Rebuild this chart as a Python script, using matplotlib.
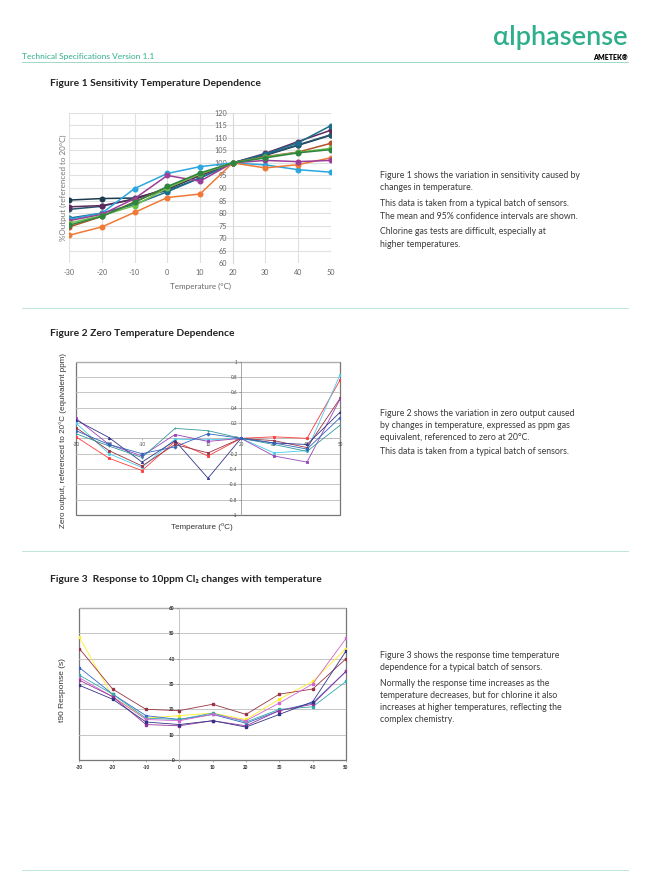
import matplotlib
matplotlib.use('Agg')
import matplotlib.pyplot as plt

plt.rcParams['font.family'] = ['Lato', 'DejaVu Sans']
plt.rcParams['axes.unicode_minus'] = False

temps = [-30, -20, -10, 0, 10, 20, 30, 40, 50]

# Figure 1 - sensitivity (% of output at 20C)
sens = {
    '#1d3b4f': [85.2, 85.8, 86.0, 89.5, 95.0, 100, 103.0, 107.0, 111.0],
    '#27566e': [81.5, 82.7, 85.8, 89.0, 94.0, 100, 103.2, 107.2, 111.2],
    '#5e2a5e': [82.5, 83.0, 85.5, 90.0, 95.0, 100, 103.8, 108.5, 113.0],
    '#1b6e8c': [78.0, 80.0, 83.5, 88.5, 94.0, 100, 103.5, 108.0, 114.8],
    '#2aa7df': [77.5, 80.0, 89.8, 95.8, 98.5, 100, 99.2, 97.3, 96.3],
    '#f07a35': [71.2, 74.5, 80.3, 86.2, 87.6, 100, 98.0, 99.3, 102.0],
    '#9c3d97': [77.0, 79.5, 85.8, 95.0, 92.7, 100, 101.0, 100.5, 101.0],
    '#b0522a': [74.5, 78.7, 84.5, 90.2, 95.5, 100, 102.5, 104.3, 107.8],
    '#6cbf4a': [76.0, 79.0, 83.0, 90.0, 95.6, 100, 102.3, 104.2, 105.8],
    '#2e8540': [75.2, 78.7, 84.3, 90.6, 96.0, 100, 102.0, 104.0, 105.3],
}

# Figure 2 - zero output (ppm equivalent)
zero = {
    '#ff3b3b': [0.02, -0.26, -0.42, -0.04, -0.23, 0, 0.02, 0.0, 0.76],
    '#44ccee': [0.20, -0.20, -0.38, -0.01, -0.02, 0, -0.19, -0.16, 0.83],
    '#993344': [0.14, -0.16, -0.36, -0.08, -0.19, 0, -0.03, -0.12, 0.52],
    '#9944bb': [0.26, -0.08, -0.23, 0.05, -0.04, 0, -0.23, -0.31, 0.51],
    '#333388': [0.24, 0.01, -0.31, -0.03, -0.52, 0, -0.06, -0.08, 0.34],
    '#339999': [0.06, -0.10, -0.25, 0.13, 0.10, 0, -0.08, -0.17, 0.17],
    '#3366bb': [0.10, -0.08, -0.20, -0.11, 0.06, 0, -0.06, -0.14, 0.27],
}
zero_markers = ['s', 'o', 's', 's', '^', '+', 'D']

# Figure 3 - t90 response (s)
t90 = {
    '#ffee22': [48.5, 25, 16.5, 17.5, 18.5, 16, 24, 31, 44],
    '#993344': [44, 28, 20, 19.5, 22, 18, 26, 28, 40],
    '#3366cc': [36.5, 26, 17.5, 16, 18, 14.5, 19.5, 22.5, 35],
    '#33aaaa': [33.5, 26, 16.5, 16, 18.5, 15, 20, 21, 31],
    '#cc66cc': [32.5, 25, 16, 15.5, 18, 15.5, 22.5, 30, 48],
    '#993399': [31.5, 25, 14, 13.5, 15.5, 13.5, 19.5, 22, 35],
    '#333388': [29.5, 24, 15, 14, 15.5, 13, 18, 23, 43],
}

W, H = 650, 881
teal = '#2fae8c'
txt = '#3a3a3a'

fig = plt.figure(figsize=(6.5, 8.81), dpi=100)

def box(l, t, r, b):
    return [l / W, 1 - b / H, (r - l) / W, (b - t) / H]

def ftext(x, y, s, **kw):
    fig.text(x / W, 1 - y / H, s, **kw)

def hline(y, c='#bfe6da'):
    fig.add_artist(plt.Line2D([22 / W, 628 / W], [1 - y / H, 1 - y / H], color=c, lw=0.7))

# header
ftext(628, 38, 'αlphasense', ha='right', va='center', fontsize=19.5, fontweight='semibold', color=teal)
ftext(628, 57, 'AMETEK®', ha='right', va='center', fontsize=5, fontweight='heavy', color='black')
ftext(22, 57, 'Technical Specifications Version 1.1', ha='left', va='center', fontsize=6, color=teal)
hline(62, '#9fd8c6')
hline(308)
hline(551)
hline(870)

# section titles
ftext(50, 83, 'Figure 1 Sensitivity Temperature Dependence', fontsize=7.4, fontweight='bold', color='#222222', va='center')
ftext(50, 334, 'Figure 2 Zero Temperature Dependence', fontsize=7.4, fontweight='bold', color='#222222', va='center')
ftext(50, 579, 'Figure 3  Response to 10ppm Cl₂ changes with temperature', fontsize=7.4, fontweight='bold', color='#222222', va='center')

# body text
para1 = [(175, 'Figure 1 shows the variation in sensitivity caused by'),
         (188, 'changes in temperature.'),
         (203, 'This data is taken from a typical batch of sensors.'),
         (216.5, 'The mean and 95% confidence intervals are shown.'),
         (231.5, 'Chlorine gas tests are difficult, especially at'),
         (244.5, 'higher temperatures.')]
para2 = [(414, 'Figure 2 shows the variation in zero output caused'),
         (425.5, 'by changes in temperature, expressed as ppm gas'),
         (437, 'equivalent, referenced to zero at 20°C.'),
         (452, 'This data is taken from a typical batch of sensors.')]
para3 = [(655, 'Figure 3 shows the response time temperature'),
         (667, 'dependence for a typical batch of sensors.'),
         (683, 'Normally the response time increases as the'),
         (695.5, 'temperature decreases, but for chlorine it also'),
         (708, 'increases at higher temperatures, reflecting the'),
         (720, 'complex chemistry.')]
for y, s in para1 + para2 + para3:
    ftext(380, y, s, fontsize=6.3, color=txt, va='center')

# ---- Figure 1
ax1 = fig.add_axes(box(69.3, 112.7, 330.7, 263.3))
for c, v in sens.items():
    ax1.plot(temps, v, color=c, lw=1.1, marker='o', ms=3.3, zorder=3)
ax1.set_xlim(-30, 50)
ax1.set_ylim(60, 120)
ax1.set_xticks(temps)
ax1.set_yticks(range(60, 121, 5))
ax1.grid(color='#e0e0e0', lw=0.8)
ax1.set_axisbelow(True)
for sp in ['top', 'right', 'bottom']:
    ax1.spines[sp].set_visible(False)
ax1.spines['left'].set_position(('data', 20))
ax1.spines['left'].set_color('#d9d9d9')
ax1.tick_params(length=0, labelsize=5.2, labelcolor='#666666', pad=4)
ax1.set_xlabel('Temperature (°C)', fontsize=5.8, color='#666666', labelpad=5)
fig.text(63 / W, 1 - 188 / H, '%Output (referenced to 20°C)', rotation=90,
         ha='center', va='center', fontsize=5.8, color='#777777')

# ---- Figure 2
ax2 = fig.add_axes(box(76, 361.7, 340, 515))
for (c, v), m in zip(zero.items(), zero_markers):
    ax2.plot(temps, v, color=c, lw=0.6, marker=m, ms=1.6, mew=0.6, zorder=3)
ax2.set_xlim(-30, 50)
ax2.set_ylim(-1, 1)
ax2.set_xticks(temps)
ax2.set_yticks([round(-1 + 0.2 * i, 1) for i in range(11)])
ax2.set_yticklabels([('%g' % t) for t in ax2.get_yticks()])
ax2.yaxis.grid(True, color='#bbbbbb', lw=0.6)
ax2.set_axisbelow(True)
for sp in ['top', 'right']:
    ax2.spines[sp].set_visible(False)
ax2.spines['left'].set_position(('data', 20))
ax2.spines['bottom'].set_position(('data', 0))
ax2.spines['left'].set_color('#999999')
ax2.spines['bottom'].set_color('#bbbbbb')
ax2.spines['left'].set_linewidth(0.6)
ax2.spines['bottom'].set_linewidth(0.6)
ax2.patch.set_edgecolor('#777777')
ax2.patch.set_linewidth(0.9)
ax2.tick_params(length=1.5, width=0.4, labelsize=3.3, labelcolor='#444444', pad=1, color='#777777')
fig.text(202 / W, 1 - 527 / H, 'Temperature (⁰C)', ha='center', va='center', fontsize=5.8,
         color='#333333', family=['Liberation Sans', 'DejaVu Sans'])
fig.text(63 / W, 1 - 440 / H, 'Zero output, referenced to 20°C (equivalent ppm)', rotation=90,
         ha='center', va='center', fontsize=5.8, color='#333333', family=['Liberation Sans', 'DejaVu Sans'])

# ---- Figure 3
ax3 = fig.add_axes(box(79.3, 608, 346, 760))
for c, v in t90.items():
    ax3.plot(temps, v, color=c, lw=0.6, marker='s', ms=1.5, zorder=3)
ax3.set_xlim(-30, 50)
ax3.set_ylim(0, 60)
ax3.set_xticks(temps)
ax3.set_yticks(range(0, 61, 10))
ax3.yaxis.grid(True, color='#bbbbbb', lw=0.6)
ax3.set_axisbelow(True)
for sp in ['top', 'right', 'bottom']:
    ax3.spines[sp].set_visible(False)
ax3.spines['left'].set_position(('data', 0))
ax3.spines['left'].set_color('#bbbbbb')
ax3.spines['left'].set_linewidth(0.6)
ax3.patch.set_edgecolor('#777777')
ax3.patch.set_linewidth(0.9)
ax3.tick_params(length=1.5, width=0.4, labelsize=3.3, labelcolor='#222222', pad=2, color='#777777')
for lab in ax3.get_xticklabels() + ax3.get_yticklabels():
    lab.set_fontweight('bold')
fig.text(63 / W, 1 - 690 / H, 't90 Response (s)', rotation=90, ha='center', va='center',
         fontsize=6, color='#333333', family=['Liberation Sans', 'DejaVu Sans'])

fig.savefig('out.png', dpi=100)
